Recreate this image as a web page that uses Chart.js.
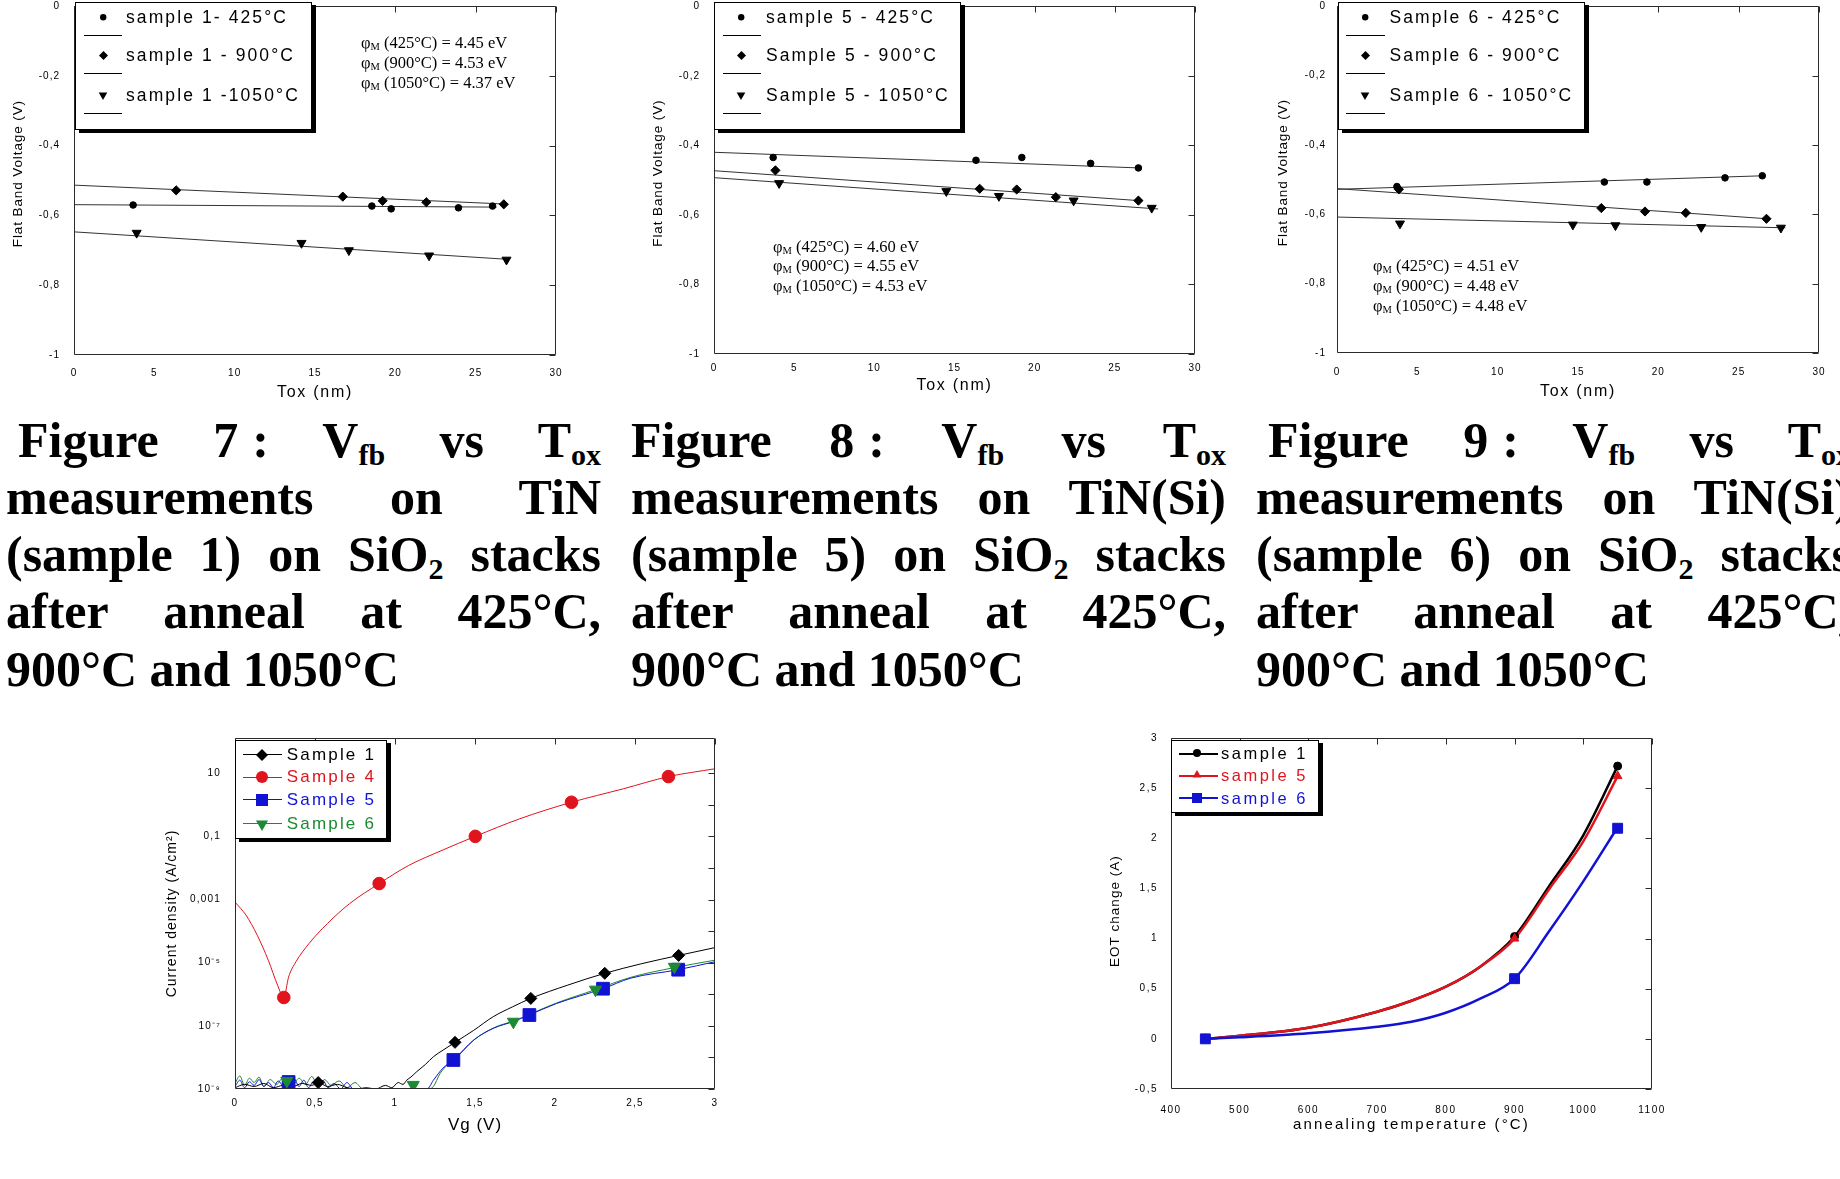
<!DOCTYPE html>
<html>
<head>
<meta charset="utf-8">
<title>Vfb / J-V / EOT figures</title>
<script src="https://cdn.jsdelivr.net/npm/chart.js@4.4.1/dist/chart.umd.min.js"></script>
<style>
  html, body { margin: 0; padding: 0; background: #fff; }
  body { width: 1840px; height: 1179px; position: relative; overflow: hidden;
         font-family: "Liberation Sans", Arial, Helvetica, sans-serif; color: #000; }
  canvas { position: absolute; }
  .legend { position: absolute; background: #fff; border: 1px solid #000; box-sizing: border-box;
            box-shadow: 4px 3px 0 #000; }
  .legend .txt { position: absolute; white-space: nowrap; line-height: 20px; }
  .legend .ln { position: absolute; height: 1px; }
  .legend svg { position: absolute; overflow: visible; }
  .phi { position: absolute; font: 16.5px "Liberation Serif", "Times New Roman", serif; white-space: nowrap; line-height: 20px; }
  .phi sub { font-size: 10.5px; vertical-align: -2px; line-height: 0; }
  .cap { position: absolute; top: 411.5px; width: 595px;
         font: bold 50px/57.25px "Liberation Serif", "Times New Roman", serif; }
  .cap .l { height: 57.25px; text-align: justify; text-align-last: justify; white-space: nowrap; }
  .cap .l.last { text-align-last: left; }
  .cap .l.ind { padding-left: 12px; }
  .cap sub { font-size: 60%; vertical-align: -0.28em; line-height: 0; }
  .cap .c { margin-left: 0.28em; }
</style>
</head>
<body>

<div class="cap" style="left:6px">
  <div class="l ind">Figure 7<span class="c">:</span> V<sub>fb</sub> vs T<sub>ox</sub></div>
  <div class="l">measurements on TiN</div>
  <div class="l">(sample 1) on SiO<sub>2</sub> stacks</div>
  <div class="l">after anneal at 425°C,</div>
  <div class="l last">900°C and 1050°C</div>
</div>
<div class="cap" style="left:631px">
  <div class="l">Figure 8<span class="c">:</span> V<sub>fb</sub> vs T<sub>ox</sub></div>
  <div class="l">measurements on TiN(Si)</div>
  <div class="l">(sample 5) on SiO<sub>2</sub> stacks</div>
  <div class="l">after anneal at 425°C,</div>
  <div class="l last">900°C and 1050°C</div>
</div>
<div class="cap" style="left:1256px">
  <div class="l ind">Figure 9<span class="c">:</span> V<sub>fb</sub> vs T<sub>ox</sub></div>
  <div class="l">measurements on TiN(Si)</div>
  <div class="l">(sample 6) on SiO<sub>2</sub> stacks</div>
  <div class="l">after anneal at 425°C,</div>
  <div class="l last">900°C and 1050°C</div>
</div>

<script>
/* ---- data ---- */

// flat band voltage vs oxide thickness, shared axes
const fbXTicks  = [0, 5, 10, 15, 20, 25, 30];
const fbYTicks  = [0, -0.2, -0.4, -0.6, -0.8, -1];
const fbYLabels = ['0', '-0,2', '-0,4', '-0,6', '-0,8', '-1'];

// Figure 7, sample 1
const f7x425  = [3.68, 18.54, 19.74, 23.93, 26.05];
const f7y425  = [-0.570, -0.573, -0.581, -0.578, -0.573];
const f7x900  = [6.36, 16.73, 19.21, 21.93, 26.75];
const f7y900  = [-0.528, -0.546, -0.558, -0.562, -0.568];
const f7x1050 = [3.90, 14.16, 17.11, 22.10, 26.92];
const f7y1050 = [-0.650, -0.679, -0.700, -0.715, -0.727];
const f7fitX  = [[0, 26.3], [0, 26.75], [0, 27.1]];
const f7fitY  = [[-0.569, -0.576], [-0.513, -0.567], [-0.647, -0.726]];
const f7labels = ['sample 1- 425°C', 'sample 1 - 900°C', 'sample 1 -1050°C'];
const f7phi    = ['(425°C) = 4.45 eV', '(900°C) = 4.53 eV', '(1050°C) = 4.37 eV'];

// Figure 8, sample 5
const f8x425  = [3.69, 16.34, 19.20, 23.49, 26.47];
const f8y425  = [-0.435, -0.443, -0.435, -0.452, -0.465];
const f8x900  = [3.83, 16.57, 18.88, 21.32, 26.47];
const f8y900  = [-0.472, -0.525, -0.527, -0.549, -0.559];
const f8x1050 = [4.06, 14.49, 17.77, 22.43, 27.30];
const f8y1050 = [-0.509, -0.532, -0.546, -0.559, -0.580];
const f8fitX  = [[0, 26.5], [0, 26.5], [0, 27.7]];
const f8fitY  = [[-0.420, -0.465], [-0.473, -0.559], [-0.493, -0.583]];
const f8labels = ['sample 5 - 425°C', 'Sample 5 - 900°C', 'Sample 5 - 1050°C'];
const f8phi    = ['(425°C) = 4.60 eV', '(900°C) = 4.55 eV', '(1050°C) = 4.53 eV'];

// Figure 9, sample 6
const f9x425  = [3.73, 16.64, 19.29, 24.15, 26.47];
const f9y425  = [-0.520, -0.507, -0.507, -0.495, -0.489];
const f9x900  = [3.85, 16.45, 19.17, 21.71, 26.73];
const f9y900  = [-0.528, -0.582, -0.592, -0.596, -0.613];
const f9x1050 = [3.92, 14.68, 17.33, 22.67, 27.63];
const f9y1050 = [-0.627, -0.630, -0.632, -0.637, -0.639];
const f9fitX  = [[0, 26.5], [0, 26.8], [0, 27.9]];
const f9fitY  = [[-0.528, -0.489], [-0.526, -0.613], [-0.608, -0.639]];
const f9labels = ['Sample 6 - 425°C', 'Sample 6 - 900°C', 'Sample 6 - 1050°C'];
const f9phi    = ['(425°C) = 4.51 eV', '(900°C) = 4.48 eV', '(1050°C) = 4.48 eV'];

// current density vs gate voltage
const jvXTicks  = [0, 0.5, 1, 1.5, 2, 2.5, 3];
const jvXLabels = ['0', '0,5', '1', '1,5', '2', '2,5', '3'];
const jvYTicks  = [1e-9, 1e-8, 1e-7, 1e-6, 1e-5, 1e-4, 1e-3, 1e-2, 1e-1, 1, 10];
const jvYLabels = ['10⁻⁹', '', '10⁻⁷', '', '10⁻⁵', '', '0,001', '', '0,1', '', '10'];
const jvLabels  = ['Sample 1', 'Sample 4', 'Sample 5', 'Sample 6'];

const s1Vg = [0, 0.06, 0.12, 0.18, 0.24, 0.30, 0.36, 0.42, 0.48, 0.52, 0.58, 0.64, 0.70, 0.76, 0.82, 0.88, 0.94, 0.98,
              1.02, 1.05, 1.073, 1.10, 1.135, 1.19, 1.24, 1.30, 1.375, 1.49, 1.614, 1.735, 1.849, 2.08, 2.311, 2.542,
              2.773, 3.0];
const s1J  = [1.1e-9, 1.4e-9, 1.2e-9, 1.5e-9, 1.1e-9, 1.3e-9, 1.2e-9, 1.5e-9, 1.3e-9, 1.6e-9, 1.2e-9, 1.4e-9, 1.1e-9, 1.0e-9,
              1.1e-9, 1.0e-9, 1.3e-9, 1.1e-9, 1.6e-9, 1.4e-9, 1.9e-9, 2.4e-9, 3.5e-9, 6.0e-9, 1.05e-8, 1.7e-8, 3.0e-8,
              7.1e-8, 1.95e-7, 4.0e-7, 7.4e-7, 1.95e-6, 4.6e-6, 9.3e-6, 1.7e-5, 3.0e-5];
const s1MarkVg = [0.52, 1.375, 1.849, 2.311, 2.773];
const s1MarkJ  = [1.6e-9, 3.0e-8, 7.4e-7, 4.6e-6, 1.7e-5];

const s4Vg = [0, 0.069, 0.139, 0.208, 0.266, 0.305, 0.335, 0.381, 0.462, 0.578, 0.716, 0.901, 1.086, 1.294, 1.502,
              1.78, 2.103, 2.427, 2.709, 3.0];
const s4J  = [8.3e-4, 3.2e-4, 7.4e-5, 1.2e-5, 1.95e-6, 7.9e-7, 3.5e-6, 1.07e-5, 4.0e-5, 1.74e-4, 7.4e-4, 3.2e-3, 0.012,
              0.036, 0.10, 0.36, 1.2, 3.2, 7.8, 13.8];
const s4MarkVg = [0.305, 0.901, 1.502, 2.103, 2.709];
const s4MarkJ  = [7.9e-7, 3.2e-3, 0.10, 1.2, 7.8];

const s5Vg = [0, 0.03, 0.06, 0.09, 0.12, 0.15, 0.18, 0.21, 0.24, 0.27, 0.30, 0.335, 0.37, 0.40, 0.43, 0.46, 0.49, 0.52,
              0.55, 0.58, 0.62, 0.66, 0.70, 0.74, 0.78, 0.85, 0.95, 1.05, 1.15, 1.20, 1.24, 1.30, 1.368, 1.49, 1.614,
              1.745, 1.838, 2.01, 2.30, 2.47, 2.77, 3.0];
const s5J  = [1.2e-9, 1.9e-9, 1.1e-9, 1.7e-9, 1.3e-9, 2.0e-9, 1.2e-9, 1.6e-9, 1.1e-9, 1.8e-9, 1.3e-9, 1.66e-9, 2.1e-9,
              1.2e-9, 1.9e-9, 1.1e-9, 1.7e-9, 1.3e-9, 1.9e-9, 1.1e-9, 1.5e-9, 1.0e-9, 1.6e-9, 1.0e-9, 1.0e-9, 1.0e-9,
              1.0e-9, 1.0e-9, 1.0e-9, 1.0e-9, 1.9e-9, 4.6e-9, 8.5e-9, 3.5e-8, 8.3e-8, 1.4e-7, 2.2e-7, 5.1e-7, 1.5e-6,
              3.2e-6, 6.0e-6, 1.07e-5];
const s5MarkVg = [0.335, 1.365, 1.84, 2.30, 2.77];
const s5MarkJ  = [1.66e-9, 8.3e-9, 2.2e-7, 1.5e-6, 6.0e-6];

const s6Vg = [0, 0.03, 0.06, 0.09, 0.12, 0.15, 0.18, 0.22, 0.26, 0.30, 0.324, 0.36, 0.40, 0.44, 0.48, 0.52, 0.56, 0.60,
              0.65, 0.70, 0.75, 0.80, 0.90, 1.0, 1.114, 1.2, 1.24, 1.28, 1.33, 1.40, 1.50, 1.62, 1.745, 1.84, 2.01,
              2.253, 2.47, 2.746, 3.0];
const s6J  = [1.5e-9, 2.6e-9, 1.3e-9, 2.2e-9, 1.6e-9, 2.4e-9, 1.2e-9, 2.0e-9, 1.4e-9, 2.3e-9, 1.8e-9, 1.3e-9, 2.2e-9,
              1.4e-9, 2.5e-9, 1.2e-9, 2.0e-9, 1.3e-9, 1.8e-9, 1.1e-9, 1.6e-9, 1.0e-9, 1.0e-9, 1.0e-9, 1.0e-9, 1.0e-9,
              1.2e-9, 3.0e-9, 6.0e-9, 1.2e-8, 3.8e-8, 8.8e-8, 1.45e-7, 2.3e-7, 5.3e-7, 1.4e-6, 3.4e-6, 7.0e-6, 1.2e-5];
const s6MarkVg = [0.324, 1.114, 1.74, 2.253, 2.746];
const s6MarkJ  = [1.8e-9, 1.35e-9, 1.35e-7, 1.4e-6, 7.4e-6];

// EOT change vs annealing temperature
const eotXTicks  = [400, 500, 600, 700, 800, 900, 1000, 1100];
const eotYTicks  = [-0.5, 0, 0.5, 1, 1.5, 2, 2.5, 3];
const eotYLabels = ['-0,5', '0', '0,5', '1', '1,5', '2', '2,5', '3'];
const eotLabels  = ['sample 1', 'sample 5', 'sample 6'];
const eotT   = [450, 500, 600, 700, 750, 800, 850, 900, 950, 1000, 1050];
const eotS1  = [0, 0.03, 0.11, 0.27, 0.38, 0.52, 0.72, 1.02, 1.52, 2.03, 2.72];
const eotS5  = [0, 0.03, 0.11, 0.27, 0.38, 0.52, 0.72, 1.00, 1.49, 1.97, 2.62];
const eotS6  = [0, 0.015, 0.055, 0.12, 0.17, 0.26, 0.40, 0.60, 1.07, 1.57, 2.11];
const eotMarkT  = [450, 900, 1050];
const eotMarkS1 = [0, 1.02, 2.72];
const eotMarkS5 = [0, 1.00, 2.62];
const eotMarkS6 = [0, 0.60, 2.10];

const RED = '#e0141c', BLUE = '#1212d2', GREEN = '#1c8a30';

/* ---- plugins ---- */

// box round the plot with short ticks pointing in from the top and right
const frameTicks = {
  id: 'frameTicks',
  afterDraw(chart, args, opts) {
    const { ctx, chartArea: a, scales: { x, y } } = chart;
    const len = opts.len || 6;
    const L = Math.round(a.left) + 0.5, R = Math.round(a.right) - 0.5;
    const T = Math.round(a.top) + 0.5, B = Math.round(a.bottom) - 0.5;
    ctx.save();
    ctx.strokeStyle = '#2a2a2a';
    ctx.lineWidth = 1;
    ctx.beginPath();
    ctx.rect(L, T, R - L, B - T);
    x.ticks.forEach(t => {
      const px = Math.round(x.getPixelForValue(t.value)) + 0.5;
      ctx.moveTo(px, T); ctx.lineTo(px, T + len);
    });
    y.ticks.forEach(t => {
      const py = Math.round(y.getPixelForValue(t.value)) + 0.5;
      ctx.moveTo(R, py); ctx.lineTo(R - len, py);
    });
    ctx.stroke();
    ctx.restore();
  }
};

// the scanned figure uses widely spaced sans text; add letter spacing per axis
const spacing = {
  id: 'spacing',
  beforeDraw(chart, args, opts) {
    Object.values(chart.scales).forEach(s => {
      if (s._spaced) return;
      s._spaced = true;
      const sp = opts[s.id] || {};
      const drawTitle = s.drawTitle, drawLabels = s.drawLabels;
      s.drawTitle = function (...a) {
        const c = this.ctx; c.save(); c.letterSpacing = sp.title || '0px';
        drawTitle.apply(this, a); c.restore();
      };
      s.drawLabels = function (...a) {
        const c = this.ctx; c.save(); c.letterSpacing = sp.ticks || '0px';
        drawLabels.apply(this, a); c.restore();
      };
    });
  }
};

Chart.register(frameTicks, spacing);
Chart.defaults.font.family = '"Liberation Sans", Arial, Helvetica, sans-serif';
Chart.defaults.color = '#000';

/* ---- helpers ---- */

const pts = (xs, ys) => xs.map((x, i) => ({ x, y: ys[i] }));

function marks(xs, ys, style, r, color, rot) {
  return { data: pts(xs, ys), showLine: false, pointStyle: style, pointRadius: r, pointRotation: rot || 0,
           pointBackgroundColor: color, pointBorderColor: color, pointBorderWidth: 1 };
}

function curve(xs, ys, color, w, smooth) {
  return { data: pts(xs, ys), showLine: true, pointRadius: 0, borderColor: color, borderWidth: w,
           cubicInterpolationMode: smooth ? 'monotone' : 'default', tension: 0 };
}

function axis(o) {
  return {
    type: o.type || 'linear', min: o.min, max: o.max,
    grid: { display: false, drawTicks: false },
    border: { display: false },
    ticks: { color: '#000', font: { size: o.tickSize || 10 }, padding: o.tickPad, autoSkip: false,
             maxRotation: 0, minRotation: 0, callback: (v, i) => o.labels[i] },
    title: { display: true, text: o.title, color: '#000', font: { size: o.titleSize },
             padding: { top: o.titlePad, bottom: o.titlePad } },
    afterBuildTicks: s => { s.ticks = o.ticks.map(v => ({ value: v })); },
    afterFit: s => {
      if (s.isHorizontal()) s.height = o.size; else s.width = o.size;
      s.paddingTop = s.paddingBottom = s.paddingLeft = s.paddingRight = 0;
    }
  };
}

function makeChart(box, plot, xa, ya, datasets, sp) {
  const cv = document.createElement('canvas');
  cv.width = box.w; cv.height = box.h;
  Object.assign(cv.style, { left: box.x + 'px', top: box.y + 'px', width: box.w + 'px', height: box.h + 'px' });
  document.body.appendChild(cv);
  xa.size = box.y + box.h - plot.b;
  ya.size = plot.l - box.x;
  return new Chart(cv, {
    type: 'scatter',
    data: { datasets },
    options: {
      responsive: false, animation: false, devicePixelRatio: 1,
      layout: { padding: { left: 0, bottom: 0, top: plot.t - box.y, right: box.x + box.w - plot.r } },
      plugins: { legend: { display: false }, tooltip: { enabled: false }, spacing: sp, frameTicks: { len: 6 } },
      scales: { x: axis(xa), y: axis(ya) }
    }
  });
}

function markerSvg(shape, r, color) {
  const c = r + 1, s = 2 * r + 2;
  let shapeEl;
  if (shape === 'circle') shapeEl = `<circle cx="${c}" cy="${c}" r="${r}"/>`;
  else if (shape === 'diamond') shapeEl = `<polygon points="${c},${c - r} ${c + r},${c} ${c},${c + r} ${c - r},${c}"/>`;
  else if (shape === 'square') shapeEl = `<rect x="1" y="1" width="${2 * r}" height="${2 * r}"/>`;
  else if (shape === 'triDown') shapeEl = `<polygon points="${c},${c + r} ${c - r * 0.866},${c - r / 2} ${c + r * 0.866},${c - r / 2}"/>`;
  else shapeEl = `<polygon points="${c},${c - r} ${c - r * 0.866},${c + r / 2} ${c + r * 0.866},${c + r / 2}"/>`;
  return { html: `<svg width="${s}" height="${s}" fill="${color}">${shapeEl}</svg>`, half: c };
}

// rows: {label, color, shape, r, ty, my, line:[x1, x2, y]}, all in page px
function legend(box, font, rows) {
  const d = document.createElement('div');
  d.className = 'legend';
  Object.assign(d.style, { left: box.x + 'px', top: box.y + 'px', width: box.w + 'px', height: box.h + 'px' });
  const ox = box.x + 1, oy = box.y + 1;
  rows.forEach(r => {
    const ln = document.createElement('div');
    ln.className = 'ln';
    Object.assign(ln.style, { left: (r.line[0] - ox) + 'px', width: (r.line[1] - r.line[0]) + 'px',
                              top: (r.line[2] - oy - 0.5) + 'px', background: r.lineColor || r.color,
                              height: (r.lineW || 1) + 'px' });
    d.appendChild(ln);
    const m = markerSvg(r.shape, r.r, r.color);
    const holder = document.createElement('div');
    holder.innerHTML = m.html;
    const svg = holder.firstChild;
    Object.assign(svg.style, { left: (r.mx - ox - m.half) + 'px', top: (r.my - oy - m.half) + 'px' });
    d.appendChild(svg);
    const t = document.createElement('div');
    t.className = 'txt';
    t.textContent = r.label;
    Object.assign(t.style, { left: (r.tx - ox) + 'px', top: (r.ty - oy - 10) + 'px', color: r.color,
                             fontSize: font.size + 'px', letterSpacing: font.spacing + 'px' });
    d.appendChild(t);
  });
  document.body.appendChild(d);
}

function phiText(x, ys, texts) {
  texts.forEach((t, i) => {
    const d = document.createElement('div');
    d.className = 'phi';
    d.innerHTML = 'φ<sub>M</sub> ' + t;
    d.style.left = x + 'px';
    d.style.top = (ys[i] - 10) + 'px';
    document.body.appendChild(d);
  });
}

/* ---- Figures 7, 8, 9 ---- */

function fbFigure(box, plot, o, sets) {
  const datasets = [
    marks(sets.x425, sets.y425, 'circle', 3.3, '#000'),
    marks(sets.x900, sets.y900, 'rectRot', 4.6, '#000'),
    marks(sets.x1050, sets.y1050, 'triangle', 5.2, '#000', 180)
  ];
  sets.fitX.forEach((fx, i) => datasets.push(curve(fx, sets.fitY[i], '#333', 1)));
  makeChart(box, plot,
    { min: 0, max: 30, ticks: fbXTicks, labels: fbXTicks.map(String), tickPad: o.xTickPad,
      title: 'Tox (nm)', titleSize: 16, titlePad: o.xTitlePad },
    // leading spaces lift the rotated title a little above the axis centre, as in the scan
    { min: -1, max: 0, ticks: fbYTicks, labels: fbYLabels, tickPad: o.yTickPad,
      title: '   Flat Band Voltage (V)', titleSize: 13.5, titlePad: o.yTitlePad },
    datasets,
    { x: { ticks: '1px', title: '1.75px' }, y: { ticks: '1px', title: '0.9px' } });

  const shapes = [['circle', 3.2], ['diamond', 4.5], ['triDown', 5]];
  const L = o.legend;
  legend(L.box, { size: 17.5, spacing: 2.1 }, sets.labels.map((lab, i) => ({
    label: lab, color: '#000', shape: shapes[i][0], r: shapes[i][1],
    mx: L.mx, my: L.rows[i], tx: L.tx, ty: L.rows[i], line: [L.l1, L.l2, L.rows[i] + 18.5]
  })));
  phiText(o.phi.x, o.phi.ys, sets.phi);
}

fbFigure({ x: 0, y: 0, w: 585, h: 405 }, { l: 74, t: 1, r: 556, b: 355 },
  { xTickPad: 12.5, xTitlePad: 2.4, yTickPad: 14, yTitlePad: 9.9,
    legend: { box: { x: 75, y: 2, w: 237, h: 128 }, rows: [16.7, 55, 95], mx: 103, tx: 126, l1: 84, l2: 122 },
    phi: { x: 361, ys: [42.7, 63.3, 82.7] } },
  { x425: f7x425, y425: f7y425, x900: f7x900, y900: f7y900, x1050: f7x1050, y1050: f7y1050,
    fitX: f7fitX, fitY: f7fitY, labels: f7labels, phi: f7phi });

fbFigure({ x: 640, y: 0, w: 575, h: 405 }, { l: 714, t: 1, r: 1195, b: 354 },
  { xTickPad: 8, xTitlePad: 9.4, yTickPad: 14, yTitlePad: 10.4,
    legend: { box: { x: 714, y: 2, w: 247, h: 128 }, rows: [16.7, 55, 95], mx: 741, tx: 766, l1: 723, l2: 761 },
    phi: { x: 773, ys: [246.7, 266, 285.7] } },
  { x425: f8x425, y425: f8y425, x900: f8x900, y900: f8y900, x1050: f8x1050, y1050: f8y1050,
    fitX: f8fitX, fitY: f8fitY, labels: f8labels, phi: f8phi });

fbFigure({ x: 1262, y: 0, w: 578, h: 405 }, { l: 1337, t: 1, r: 1819, b: 353 },
  { xTickPad: 13.5, xTitlePad: 3.4, yTickPad: 11, yTitlePad: 12.9,
    legend: { box: { x: 1338, y: 2, w: 247, h: 128 }, rows: [16.7, 55, 95], mx: 1365, tx: 1389.5, l1: 1346, l2: 1385 },
    phi: { x: 1373, ys: [266, 286, 306] } },
  { x425: f9x425, y425: f9y425, x900: f9x900, y900: f9y900, x1050: f9x1050, y1050: f9y1050,
    fitX: f9fitX, fitY: f9fitY, labels: f9labels, phi: f9phi });

/* ---- J-V figure ---- */

makeChart({ x: 150, y: 727, w: 580, h: 420 }, { l: 235, t: 738, r: 715, b: 1089 },
  { min: 0, max: 3, ticks: jvXTicks, labels: jvXLabels, tickPad: 8.5,
    title: 'Vg (V)', titleSize: 17, titlePad: 11.8 },
  { type: 'logarithmic', min: 1e-9, max: 130, ticks: jvYTicks, labels: jvYLabels, tickPad: 14,
    title: 'Current density (A/cm²)', titleSize: 14, titlePad: 13.6 },
  [
    marks(s6MarkVg, s6MarkJ, 'triangle', 7, GREEN, 180),
    marks(s5MarkVg, s5MarkJ, 'rect', 9, BLUE),
    marks(s1MarkVg, s1MarkJ, 'rectRot', 6, '#000'),
    marks(s4MarkVg, s4MarkJ, 'circle', 6.3, RED),
    curve(s4Vg, s4J, RED, 1, true),
    curve(s1Vg, s1J, '#000', 1, true),
    curve(s5Vg, s5J, BLUE, 1, true),
    curve(s6Vg, s6J, GREEN, 1, true)
  ],
  { x: { ticks: '1.2px', title: '1px' }, y: { ticks: '1.2px', title: '1px' } });

legend({ x: 235, y: 740, w: 152, h: 99 }, { size: 17, spacing: 2.2 },
  [['diamond', 6, '#000'], ['circle', 6, RED], ['square', 6, BLUE], ['triDown', 7, GREEN]].map((m, i) => {
    const y = [754.7, 777, 799.7, 823.7][i];
    return { label: jvLabels[i], color: m[2], shape: m[0], r: m[1], mx: 262.3, my: y, tx: 286.7, ty: y,
             line: [242.7, 281.7, y] };
  }));

/* ---- EOT figure ---- */

makeChart({ x: 1090, y: 727, w: 580, h: 420 }, { l: 1171, t: 738, r: 1652, b: 1089 },
  { min: 400, max: 1100, ticks: eotXTicks, labels: eotXTicks.map(String), tickPad: 15.5,
    title: 'annealing temperature (°C)', titleSize: 15, titlePad: 13 },
  { min: -0.5, max: 3, ticks: eotYTicks, labels: eotYLabels, tickPad: 13,
    title: ' EOT change (A)', titleSize: 13.5, titlePad: 16.9 },
  [
    marks(eotMarkT, eotMarkS6, 'rect', 7, BLUE),
    marks(eotMarkT, eotMarkS5, 'triangle', 5, RED),
    marks(eotMarkT, eotMarkS1, 'circle', 4, '#000'),
    curve(eotT, eotS6, BLUE, 2.5, true),
    curve(eotT, eotS5, RED, 2.5, true),
    curve(eotT, eotS1, '#000', 2.5, true)
  ],
  { x: { ticks: '1.5px', title: '2.15px' }, y: { ticks: '1.5px', title: '1px' } });

legend({ x: 1171, y: 740, w: 148, h: 73 }, { size: 16.5, spacing: 2.5 },
  [['circle', 4, '#000'], ['triUp', 5, RED], ['square', 5, BLUE]].map((m, i) => {
    const y = [753, 775.3, 797.7][i];
    return { label: eotLabels[i], color: m[2], shape: m[0], r: m[1], mx: 1197, my: y, tx: 1221, ty: y,
             line: [1179, 1218, y], lineW: 2 };
  }));
</script>
</body>
</html>
